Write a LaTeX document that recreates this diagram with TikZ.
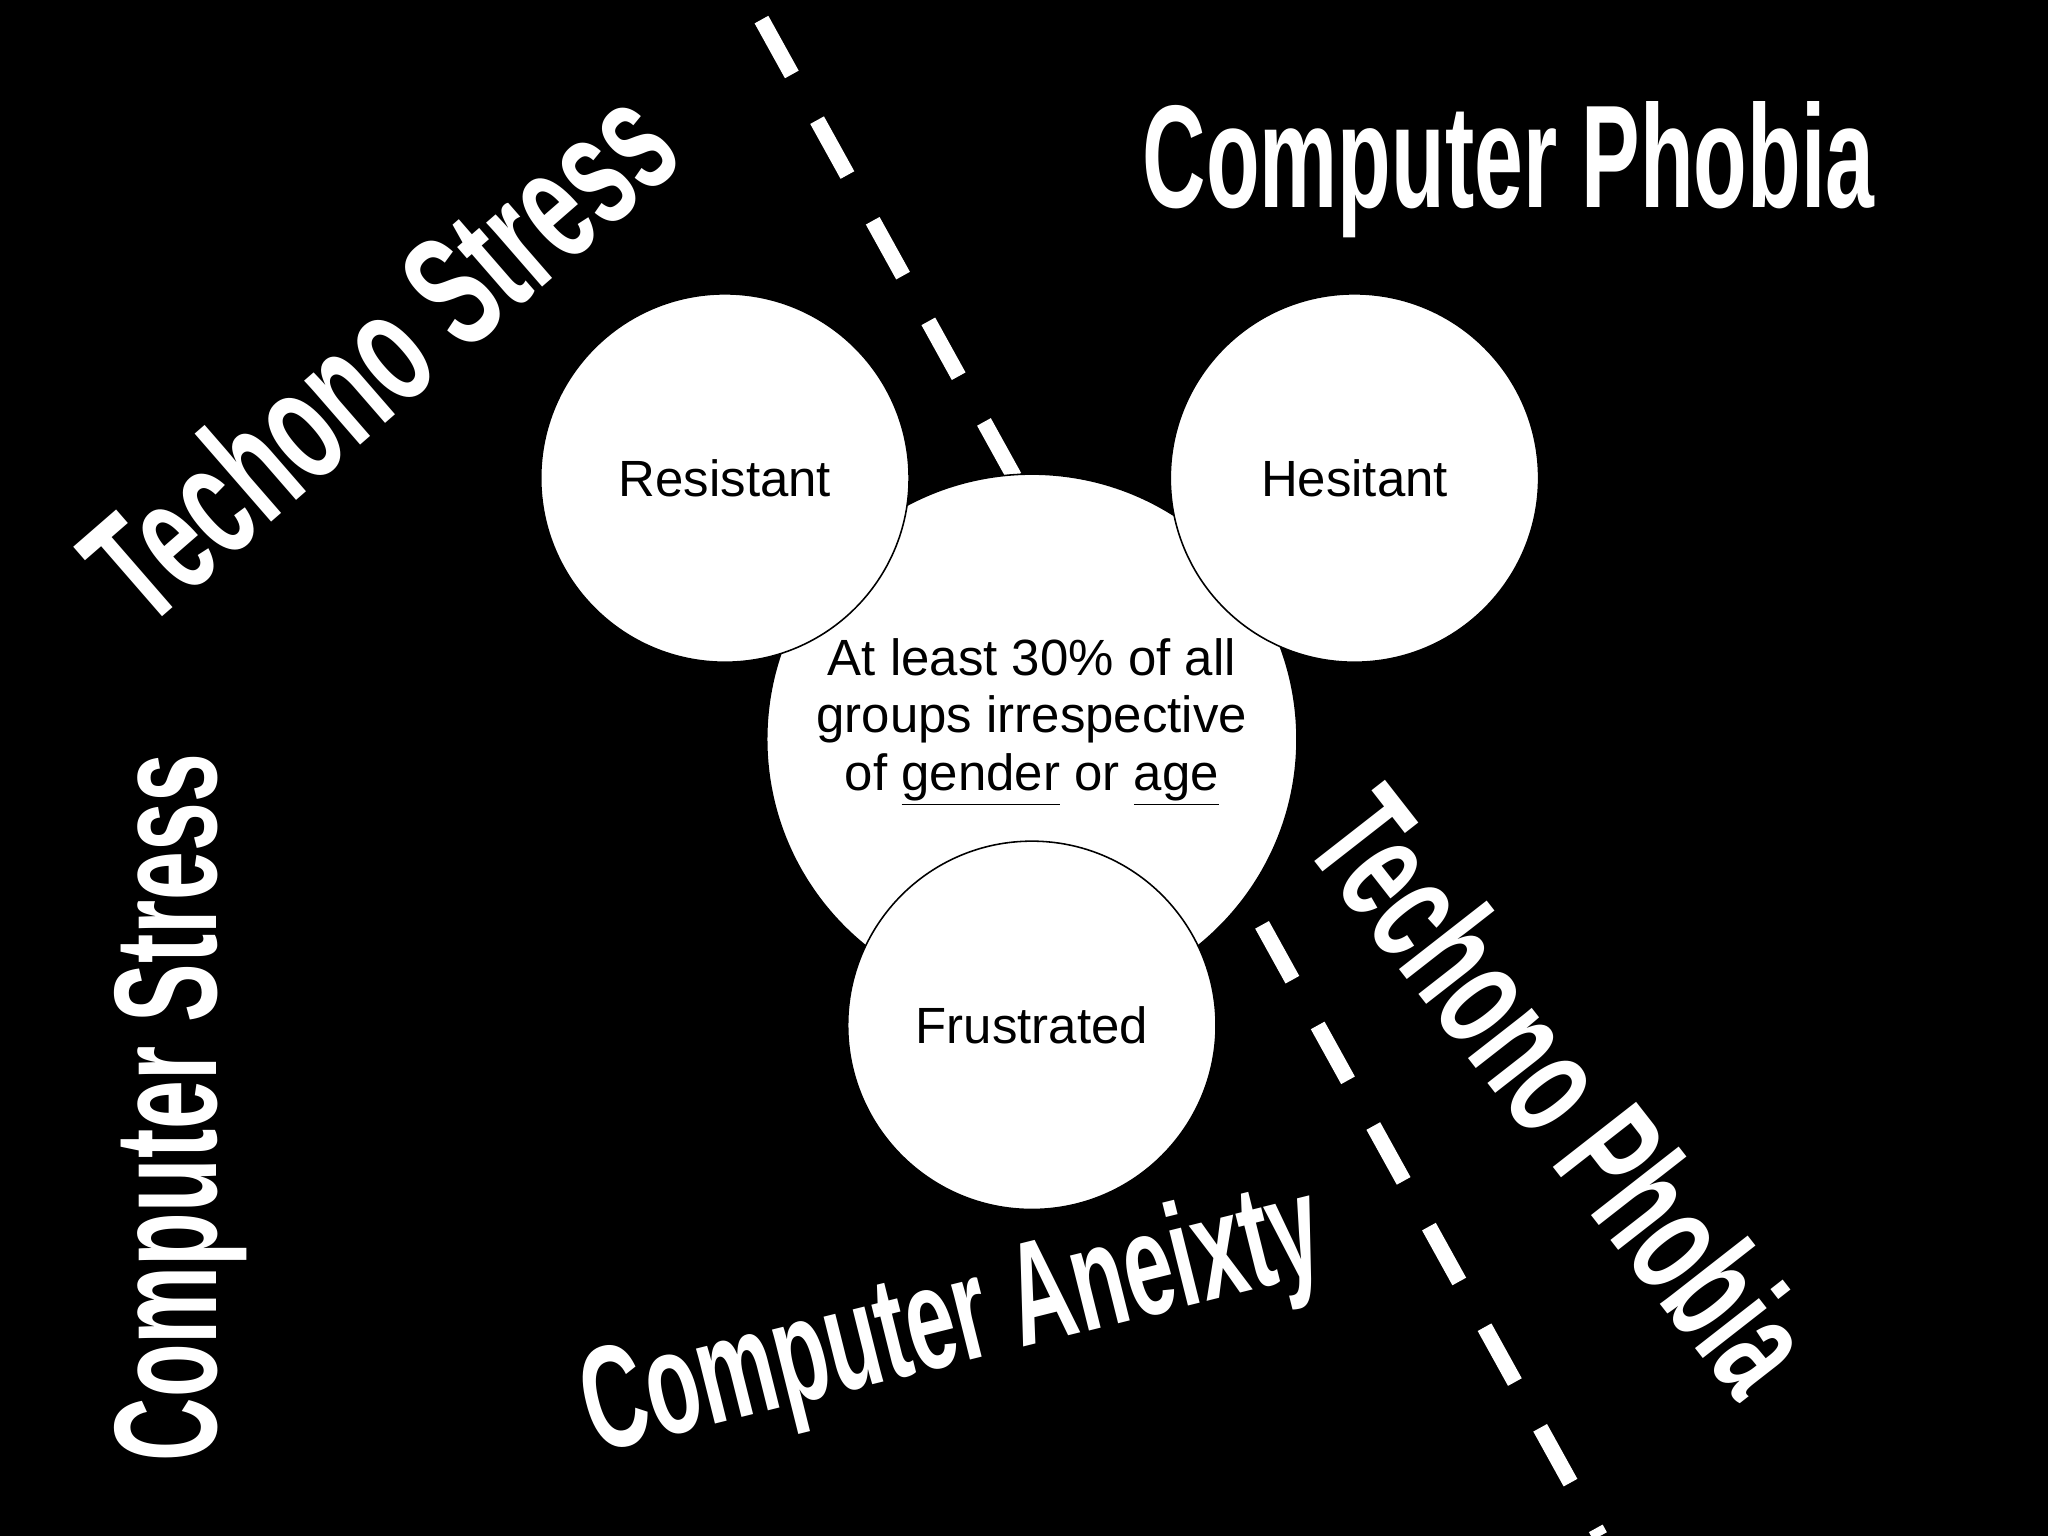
\documentclass[tikz,border=0pt]{standalone}
\usepackage{fontspec}
\usepackage{graphicx}
\setmainfont{Liberation Sans}
\newfontfamily\headfont{Liberation Sans}
\newcommand{\hd}[1]{\scalebox{0.6}[1]{#1}}
\begin{document}
\begin{tikzpicture}[x=0.5pt,y=-0.5pt,
  circ/.style={circle,draw=black,line width=0.6pt,fill=white,minimum size=#1,inner sep=0pt},
  lbl/.style={font=\fontsize{19.5}{23}\selectfont,text=black},
  head/.style={font=\headfont\bfseries\fontsize{56}{60}\selectfont,text=white,inner sep=0pt}]
\fill[black] (0,0) rectangle (1568,1176);
\useasboundingbox (0,0) rectangle (1568,1176);
\coordinate (d1) at (583,15);
\coordinate (d2) at (1225,1176);
\draw[white,line width=6pt,dash pattern=on 24pt off 20pt] (d1) -- (d2);
\node[circ=203pt] (c) at (790,566) {};
\node[lbl,align=center] (ct) at (790,553) {At least 30\% of all\\[-1pt]groups irrespective\\[-1pt]of \underline{gender} or \underline{age}};
\node[circ=141pt] (r) at (555,366) {};
\node[lbl] at (r) {Resistant};
\node[circ=141pt] (h) at (1037,366) {};
\node[lbl] at (h) {Hesitant};
\node[circ=141pt] (f) at (790,785) {};
\node[lbl] at (f) {Frustrated};
\node[head] (cp) at (1155,130) {\hd{Computer Phobia}};
\node[head,rotate=41,scale=1.1] (ts) at (290,270) {\hd{Techono Stress}};
\node[head,rotate=90] (cs) at (138,848) {\hd{Computer Stress}};
\node[head,rotate=14] (ca) at (730,1015) {\hd{Computer Aneixty}};
\node[head,rotate=-52,scale=1.05] (tp) at (1197,835) {\hd{Techono Phobia}};
\end{tikzpicture}
\end{document}
